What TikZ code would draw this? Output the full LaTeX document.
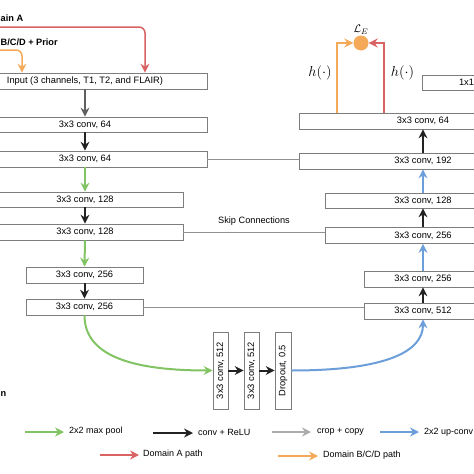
\documentclass[tikz,border=0pt]{standalone}
\usepackage{fontspec}
\setmainfont{Liberation Sans}
\usetikzlibrary{arrows.meta}
\definecolor{cgreen}{RGB}{130,196,100}
\definecolor{cred}{RGB}{217,98,98}
\definecolor{corange}{RGB}{244,170,88}
\definecolor{cblue}{RGB}{108,158,218}
\definecolor{cgray}{RGB}{172,172,172}
\definecolor{cdark}{RGB}{34,34,34}
\definecolor{cmid}{RGB}{95,95,95}
\definecolor{cborder}{RGB}{125,125,125}
\tikzset{
  box/.style={draw=cborder, line width=0.7pt, fill=white, inner sep=0pt, minimum height=16pt, font=\fontsize{9.3}{10}\selectfont},
  vbox/.style={box, rotate=90, minimum width=77pt, minimum height=15pt},
  arr/.style={line width=2pt, -{Stealth[length=9pt,width=9pt,inset=3pt]}},
  blk/.style={arr, draw=cdark},
  midarr/.style={arr, draw=cmid},
  grn/.style={arr, draw=cgreen},
  blu/.style={arr, draw=cblue},
  redl/.style={arr, draw=cred, line width=1.5pt},
  orl/.style={arr, draw=corange, line width=1.5pt},
  gryl/.style={arr, draw=cgray, line width=1.5pt},
  skip/.style={draw=cgray!85!black, line width=0.8pt},
  lbl/.style={font=\fontsize{9.2}{10}\selectfont, inner sep=0pt},
  blbl/.style={font=\bfseries\fontsize{9.2}{10}\selectfont, inner sep=0pt},
  leg/.style={font=\fontsize{9}{10}\selectfont, inner sep=0pt, anchor=west},
  legarr/.style={line width=1.7pt},
}
\begin{document}
\begin{tikzpicture}[x=1pt,y=-1pt]
\useasboundingbox (0,0) rectangle (474,474);
\clip (0,0) rectangle (474,474);
\fill[white] (0,0) rectangle (474,474);

% top labels (as cropped in the picture)
\node[blbl, anchor=west] (dA) at (0.5,18) {ain A};
\node[blbl, anchor=west] (dB) at (0.5,42) {B/C/D + Prior};
\node[blbl, anchor=west] (dn) at (0.5,394) {n};

% left column
\node[box, minimum width=244pt] (In) at (85,81) {Input (3 channels, T1, T2, and FLAIR)};
\node[box, minimum width=244pt, minimum height=15pt] (L1) at (85,124.5) {3x3 conv, 64};
\node[box, minimum width=244pt] (L2) at (85,159) {3x3 conv, 64};
\node[box, minimum width=196pt, minimum height=15pt] (L3) at (85,199.5) {3x3 conv, 128};
\node[box, minimum width=196pt] (L4) at (85,232) {3x3 conv, 128};
\node[box, minimum width=117pt] (L5) at (84.5,275) {3x3 conv, 256};
\node[box, minimum width=117pt] (L6) at (84.5,307) {3x3 conv, 256};

% bottom
\node[vbox] (A) at (220.5,370.5) {3x3 conv, 512};
\node[vbox] (B) at (251.5,370.5) {3x3 conv, 512};
\node[vbox, minimum height=16pt] (C) at (283,370.5) {Dropout, 0.5};

% right column
\node[box, minimum width=248pt] (R1) at (423,121) {3x3 conv, 64};
\node[box, minimum width=248pt] (R2) at (423,161) {3x3 conv, 192};
\node[box, minimum width=196pt, minimum height=15pt] (R3) at (423,200.5) {3x3 conv, 128};
\node[box, minimum width=196pt] (R4) at (423,235.5) {3x3 conv, 256};
\node[box, minimum width=118pt] (R5) at (423,279) {3x3 conv, 256};
\node[box, minimum width=118pt] (R6) at (423,311) {3x3 conv, 512};

% 1x1 box
\node[box, minimum width=110pt, minimum height=15pt, text width=100pt, align=left] (X) at (477,82.5) {\hspace*{32pt}1x1};

% loss
\node[circle, fill=corange, minimum size=15pt, inner sep=0pt] (LE) at (361,43) {};
\node[inner sep=0pt, font=\fontsize{11}{13}\selectfont] (LEt) at (361,29.5) {$\mathcal{L}_E$};
\node[inner sep=0pt, font=\fontsize{15}{17}\selectfont] (h1) at (320,73) {$h(\cdot)$};
\node[inner sep=0pt, font=\fontsize{15}{17}\selectfont] (h2) at (402.5,73) {$h(\cdot)$};

% domain paths
\coordinate (rS) at (0,27);
\coordinate (rC) at (145,27);
\coordinate (oS) at (0,50);
\coordinate (oC) at (22,50);
\draw[redl, rounded corners=6pt] (rS) -- (rC) -- (rC |- In.north);
\draw[orl, rounded corners=6pt] (oS) -- (oC) -- (oC |- In.north);

\coordinate (oT) at (337,43);
\coordinate (rT) at (384,43);
\draw[orl] (oT |- R1.north) -- (oT) -- (LE.west);
\draw[redl] (rT |- R1.north) -- (rT) -- (LE.east);

% left arrows
\draw[midarr] (In.south) -- (L1.north);
\draw[blk] (L1.south) -- (L2.north);
\draw[grn] (L2.south) -- (L3.north);
\draw[blk] (L3.south) -- (L4.north);
\draw[grn] (L4.south) -- (L5.north);
\draw[blk] (L5.south) -- (L6.north);

% bottom arrows
\draw[grn] (L6.south) .. controls (84.5,355) and (130,370.5) .. (A.north);
\draw[blk] (A.south) -- (B.north);
\draw[blk] (B.south) -- (C.north);
\draw[blu] (C.south) .. controls (385,370.5) and (423,352) .. (R6.south);

% right arrows
\draw[blk] (R6.north) -- (R5.south);
\draw[blu] (R5.north) -- (R4.south);
\draw[blk] (R4.north) -- (R3.south);
\draw[blu] (R3.north) -- (R2.south);
\draw[blk] (R2.north) -- (R1.south);

% skip connections
\draw[skip] (L2.east) -- (L2.east -| R2.west);
\draw[skip] (L4.east) -- (L4.east -| R4.west);
\draw[skip] (L6.east) -- (L6.east -| R6.west);
\node[lbl] (sk) at (254,221) {Skip Connections};

% legend
\coordinate (g1) at (25,432); \coordinate (g2) at (64,432);
\coordinate (k1) at (153,433); \coordinate (k2) at (193,433);
\coordinate (y1) at (272,432); \coordinate (y2) at (311,432);
\coordinate (b1) at (380,432); \coordinate (b2) at (419,432);
\coordinate (r1) at (100,455); \coordinate (r2) at (139,455);
\coordinate (o1) at (278,456); \coordinate (o2) at (318,456);
\draw[grn, legarr] (g1) -- (g2);
\draw[blk, legarr] (k1) -- (k2);
\draw[gryl] (y1) -- (y2);
\draw[blu, legarr] (b1) -- (b2);
\draw[redl, legarr] (r1) -- (r2);
\draw[orl, legarr] (o1) -- (o2);
\node[leg] (tg) at (69,431) {2x2 max pool};
\node[leg] (tk) at (198,432) {conv + ReLU};
\node[leg] (ty) at (317,432) {crop + copy};
\node[leg] (tb) at (424,432) {2x2 up-conv};
\node[leg] (tr) at (143,454) {Domain A path};
\node[leg] (to) at (323,455) {Domain B/C/D path};
\end{tikzpicture}
\end{document}
